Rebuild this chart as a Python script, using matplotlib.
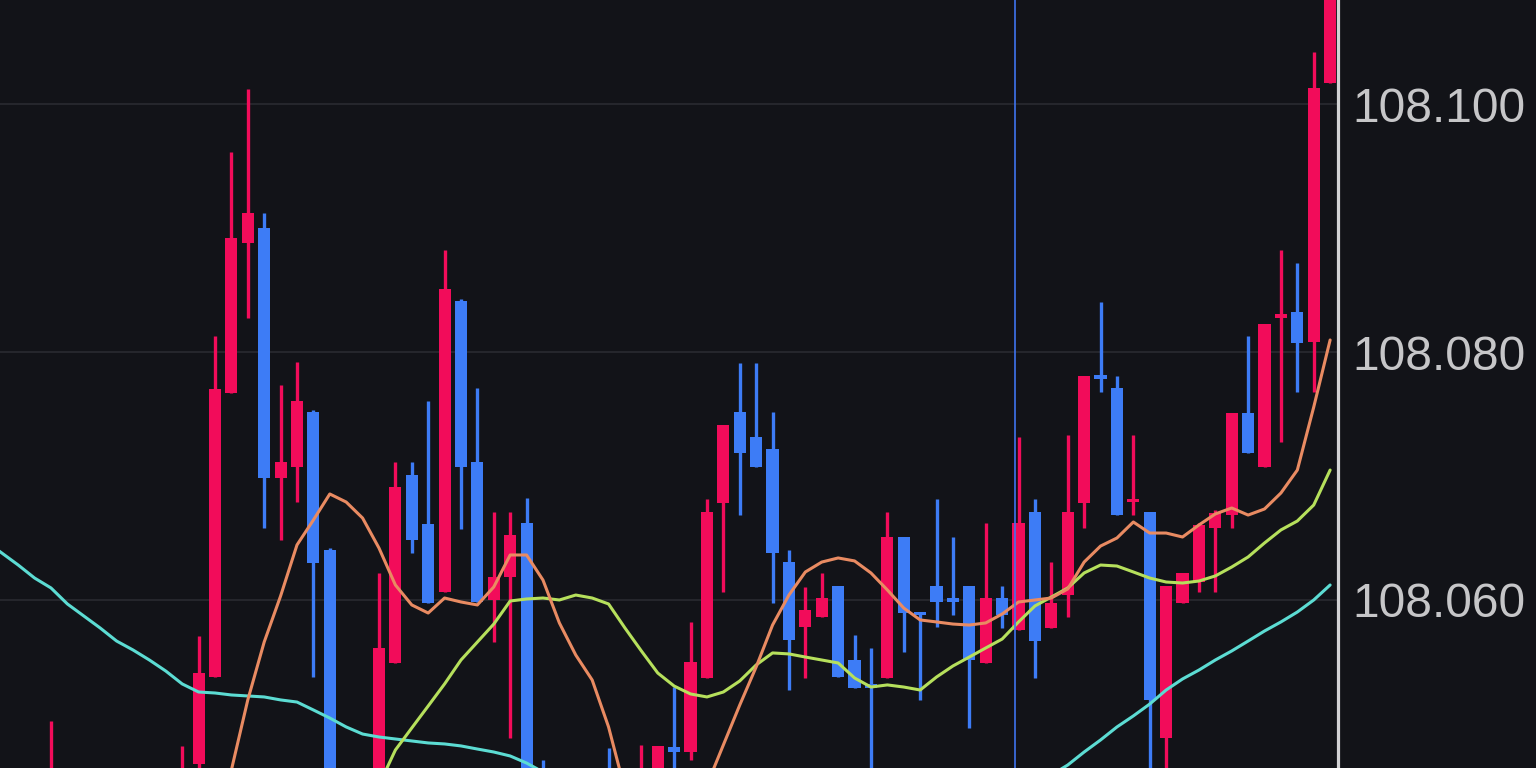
import numpy as np
import matplotlib
matplotlib.use("Agg")
import matplotlib.pyplot as plt

nan = float("nan")

# candle index runs from -4 to 78 (first entry is index -4)
opens = [
    nan, nan, nan, nan,
    108.04508, nan, nan, nan, nan, nan, nan, nan,
    108.04468, 108.04677,
    108.05379, 108.07669, 108.08879, 108.09000, 108.06984, 108.07073, 108.07516, 108.06403, nan, nan,
    108.04468, 108.05492, 108.07008, 108.06613, 108.06065, 108.08411, 108.07113, 108.06000, 108.06185, 108.06621,
    108.04589, nan, nan, nan, 108.04548, nan, 108.04387, 108.04387, 108.04815, 108.04774,
    108.05371, 108.06782, 108.07516, 108.07315, 108.07218, 108.06306, 108.05782, 108.05863, 108.06113, 108.05516,
    108.05323, 108.05371, 108.06508, 108.05903, 108.06113, 108.06016, 108.06113, 108.05492, 108.06016, 108.05758,
    108.06710, 108.05774, 108.06040, 108.06782, 108.07815, 108.07710, 108.06790, 108.06710, 108.04887, 108.05976,
    108.06145, 108.06581, 108.06685, 108.07508, 108.07073, 108.08274, 108.08323, 108.08081, 108.10169,
]
highs = [
    nan, nan, nan, nan,
    108.05024, nan, nan, nan, nan, nan, nan, nan,
    108.04823, 108.05710,
    108.08129, 108.09613, 108.10121, 108.09121, 108.07734, 108.07919, 108.07532, 108.06419, nan, nan,
    108.06218, 108.07113, 108.07113, 108.07605, 108.08823, 108.08427, 108.07710, 108.06710, 108.06710, 108.06823,
    108.04710, nan, nan, nan, 108.04806, nan, 108.04831, 108.04823, 108.05298, 108.05823,
    108.06815, 108.07411, 108.07911, 108.07911, 108.07516, 108.06403, 108.06105, 108.06218, 108.06113, 108.05718,
    108.05613, 108.06710, 108.06508, 108.05903, 108.06815, 108.06508, 108.06113, 108.06621, 108.06113, 108.07315,
    108.06815, 108.06306, 108.07331, 108.07806, 108.08403, 108.07806, 108.07331, 108.06710, 108.06113, 108.06218,
    108.06621, 108.06726, 108.07508, 108.08129, 108.08226, 108.08823, 108.08718, 108.10419, 108.11100,
]
lows = [
    nan, nan, nan, nan,
    108.04468, nan, nan, nan, nan, nan, nan, nan,
    108.04427, 108.04629,
    108.05379, 108.07669, 108.08274, 108.06581, 108.06484, 108.06790, 108.05379, 108.04306, nan, nan,
    108.04427, 108.05492, 108.06379, 108.05976, 108.06065, 108.06573, 108.05984, 108.05661, 108.04887, 108.04387,
    108.04387, nan, nan, nan, 108.04347, nan, 108.04347, 108.04347, 108.04468, 108.04710,
    108.05371, 108.06065, 108.06685, 108.07073, 108.05976, 108.05274, 108.05371, 108.05863, 108.05379, 108.05290,
    108.04468, 108.05371, 108.05581, 108.05194, 108.05782, 108.05879, 108.04968, 108.05492, 108.05774, 108.05758,
    108.05371, 108.05774, 108.05863, 108.06581, 108.07677, 108.06685, 108.06685, 108.04468, 108.04468, 108.05976,
    108.06065, 108.06065, 108.06581, 108.07185, 108.07073, 108.07274, 108.07677, 108.07677, 108.10169,
]
closes = [
    nan, nan, nan, nan,
    108.04613, nan, nan, nan, nan, nan, nan, nan,
    108.04589, 108.05411,
    108.07702, 108.08919, 108.09121, 108.06984, 108.07113, 108.07605, 108.06298, 108.04387, nan, nan,
    108.05613, 108.06911, 108.06484, 108.05976, 108.08508, 108.07073, 108.05984, 108.06185, 108.06524, 108.04468,
    108.04468, nan, nan, nan, 108.04387, nan, 108.04589, 108.04823, 108.04774, 108.05500,
    108.06710, 108.07411, 108.07185, 108.07073, 108.06379, 108.05677, 108.05919, 108.06016, 108.05379, 108.05290,
    108.05290, 108.06508, 108.05895, 108.05879, 108.05984, 108.05984, 108.05516, 108.06016, 108.05879, 108.06621,
    108.05669, 108.05976, 108.06710, 108.07806, 108.07782, 108.06685, 108.06815, 108.05194, 108.06113, 108.06218,
    108.06605, 108.06702, 108.07508, 108.07185, 108.08226, 108.08306, 108.08073, 108.10129, 108.11000,
]

ma_short = [nan] * 14 + [
    108.04226, 108.04629, 108.05194, 108.05661, 108.06032, 108.06444, 108.06645, 108.06855, 108.06790, 108.06661,
    108.06419, 108.06121, 108.05960, 108.05895, 108.06016, 108.05984, 108.05960, 108.06105, 108.06363, 108.06363,
    108.06161, 108.05815, 108.05556, 108.05355, 108.04976, 108.04468, nan, nan, nan, nan,
    108.04508, 108.04831, 108.05153, 108.05460, 108.05798, 108.06040, 108.06226, 108.06306, 108.06339, 108.06315,
    108.06218, 108.06081, 108.05935, 108.05839, 108.05823, 108.05806, 108.05798, 108.05815, 108.05887, 108.05984,
    108.06000, 108.06016, 108.06089, 108.06306, 108.06435, 108.06500, 108.06629, 108.06540, 108.06540, 108.06508,
    108.06605, 108.06694, 108.06742, 108.06685, 108.06734, 108.06863, 108.07048, 108.07556, 108.08097,
]
ma_mid = [nan] * 24 + [
    108.04508, 108.04790, 108.04968, 108.05145, 108.05323, 108.05516, 108.05661, 108.05806, 108.05992, 108.06008,
    108.06016, 108.06000, 108.06040, 108.06016, 108.05968, 108.05774, 108.05589, 108.05411, 108.05306, 108.05242,
    108.05218, 108.05258, 108.05347, 108.05476, 108.05573, 108.05565, 108.05540, 108.05516, 108.05492, 108.05371,
    108.05298, 108.05315, 108.05298, 108.05274, 108.05379, 108.05468, 108.05540, 108.05613, 108.05685, 108.05823,
    108.05952, 108.06024, 108.06097, 108.06218, 108.06282, 108.06274, 108.06226, 108.06177, 108.06145, 108.06137,
    108.06153, 108.06194, 108.06266, 108.06347, 108.06460, 108.06565, 108.06637, 108.06766, 108.07048,
]
ma_long = [
    108.06476, 108.06379, 108.06282, 108.06177,
    108.06097, 108.05968, 108.05871, 108.05774, 108.05669, 108.05597, 108.05516, 108.05427, 108.05323, 108.05258,
    108.05250, 108.05234, 108.05226, 108.05218, 108.05194, 108.05177, 108.05113, 108.05048, 108.04976, 108.04919,
    108.04895, 108.04879, 108.04863, 108.04847, 108.04839, 108.04823, 108.04798, 108.04774, 108.04742, 108.04685,
    108.04613] + [nan] * 30 + [
    108.04589, 108.04669, 108.04774, 108.04871, 108.04976, 108.05065, 108.05161, 108.05274, 108.05363,
    108.05435, 108.05516, 108.05589, 108.05669, 108.05750, 108.05823, 108.05903, 108.06000, 108.06121,
]

price_ticks = [108.060, 108.080, 108.100]
crosshair_index = 58.78
first_index = -4

# ---------------- style ----------------
BG = "#121318"
UP = "#f20c5a"
DOWN = "#3d7cf6"
C_SHORT = "#e98b62"
C_MID = "#b6e05c"
C_LONG = "#5cdcd3"
GRID = "#2a2b31"

o = np.array(opens); h = np.array(highs); l = np.array(lows); c = np.array(closes)
idx = np.arange(len(o)) + first_index
valid = ~np.isnan(o)

fig = plt.figure(figsize=(15.36, 7.68), dpi=100, facecolor=BG)
ax = fig.add_axes([0, 0, 1338 / 1536, 1])
ax.set_facecolor(BG)

up = c >= o
col = np.where(up, UP, DOWN)
m = valid
ax.vlines(idx[m], l[m], h[m], colors=col[m], linewidth=2.4, zorder=2)
body_lo = np.minimum(o, c)
body_h = np.abs(c - o)
ax.bar(idx[m], body_h[m], bottom=body_lo[m], width=0.74, color=col[m],
       edgecolor="none", zorder=3)

for vals, colr in ((ma_long, C_LONG), (ma_mid, C_MID), (ma_short, C_SHORT)):
    ax.plot(idx, np.array(vals), color=colr, linewidth=2.2, zorder=4,
            solid_joinstyle="round", solid_capstyle="round")

ax.axvline(crosshair_index, color="#3f74ee", linewidth=1.2, zorder=5)

ax.set_xlim(-3.11, 78.48)
ax.set_ylim(108.04645, 108.10839)

ax.set_yticks(price_ticks)
ax.set_yticklabels([f"{v:.3f}" for v in price_ticks])
ax.yaxis.tick_right()
ax.tick_params(axis="y", length=0, pad=10, labelsize=34.5, labelcolor="#c6c6c8")
for lab in ax.get_yticklabels():
    lab.set_fontfamily(["Liberation Sans", "DejaVu Sans"])
ax.set_xticks([])
ax.grid(axis="y", color=GRID, linewidth=1.2)
ax.set_axisbelow(True)

for s in ("top", "left", "bottom"):
    ax.spines[s].set_visible(False)
ax.spines["right"].set_color("#d2d2d4")
ax.spines["right"].set_linewidth(2.3)
ax.spines["right"].set_zorder(6)

fig.savefig("out.png", dpi=100, facecolor=BG)
